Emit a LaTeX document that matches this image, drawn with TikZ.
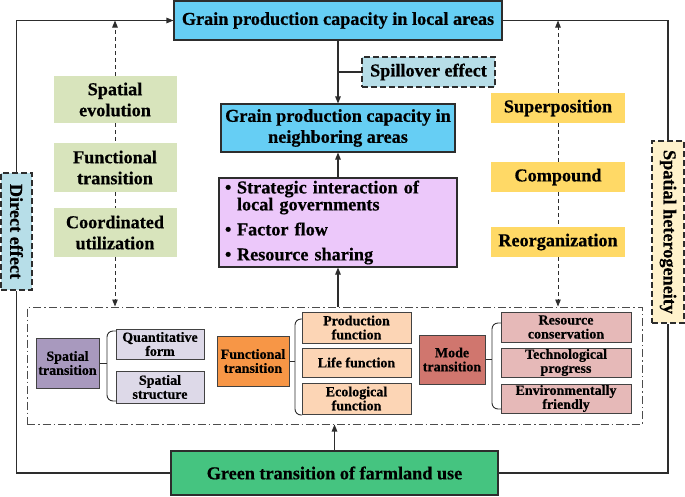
\documentclass[tikz,border=0pt]{standalone}
\usepackage{graphicx}
\usepackage{fontspec}
\setmainfont{Liberation Serif}[BoldFeatures={FakeBold=0.5}]
\usetikzlibrary{arrows.meta,calc}
\definecolor{cyanb}{RGB}{102,206,244}
\definecolor{lblue}{RGB}{183,222,232}
\definecolor{lgreen}{RGB}{216,228,188}
\definecolor{goldb}{RGB}{255,217,102}
\definecolor{creamb}{RGB}{255,242,204}
\definecolor{lilac}{RGB}{236,200,250}
\definecolor{stc}{RGB}{168,153,190}
\definecolor{qfc}{RGB}{221,217,232}
\definecolor{orangeb}{RGB}{247,150,70}
\definecolor{peach}{RGB}{252,213,181}
\definecolor{mtc}{RGB}{208,118,110}
\definecolor{rosec}{RGB}{230,185,184}
\definecolor{greenb}{RGB}{69,196,128}
\definecolor{edge}{RGB}{45,45,45}
\tikzset{
  x=1pt, y=-1pt,
  bigfont/.style={font=\bfseries\fontsize{18.2}{21}\selectfont},
  box/.style={draw=edge, line width=1.1pt, align=center, inner sep=1pt, bigfont},
  plain/.style={align=center, inner sep=1pt, bigfont},
  dbox/.style={box, dash pattern=on 6pt off 3pt},
  small/.style={draw=edge!90!white, line width=1pt, align=center, inner sep=1pt, font=\bfseries\fontsize{14}{14}\selectfont},
  conn/.style={line width=1.1pt, draw=edge},
  arr/.style={conn, -{Triangle[length=7pt,width=5.5pt]}},
  dline/.style={line width=0.9pt, draw=edge, dash pattern=on 4pt off 3pt},
  darr/.style={dline, -{Triangle[length=7pt,width=5.5pt]}},
  brace/.style={line width=0.9pt, draw=edge, rounded corners=6pt},
}
\begin{document}
\begin{tikzpicture}
\useasboundingbox (0,0) rectangle (685,496);

% main column
\node[box, fill=cyanb, minimum width=328pt, minimum height=39pt] (top) at (338,20.5) {Grain production capacity in local areas};
\node[dbox, fill=lblue, minimum width=133pt, minimum height=30pt] (spill) at (428.5,72) {Spillover effect};
\node[box, fill=cyanb, minimum width=234pt, minimum height=48pt] (nb) at (338,128) {Grain production capacity in\\neighboring areas};
\node[draw=edge, line width=1.1pt, fill=lilac, align=left, inner xsep=6pt, inner ysep=1pt, text width=226pt, minimum height=89pt, font=\bfseries\fontsize{18.2}{17}\selectfont] (mech) at (338,222.5)
  {\makebox[12pt][l]{\textbullet}Strategic interaction of\\
   \hspace*{12pt}local governments\\[8pt]
   \makebox[12pt][l]{\textbullet}Factor flow\\[8pt]
   \makebox[12pt][l]{\textbullet}Resource sharing};

% left column
\node[plain, fill=lgreen, minimum width=123pt, minimum height=47pt] (se) at (115,99.5) {Spatial\\evolution};
\node[plain, fill=lgreen, minimum width=123pt, minimum height=49pt] (ftr) at (115,167.5) {Functional\\transition};
\node[plain, fill=lgreen, minimum width=123pt, minimum height=49pt] (cu) at (115,232.5) {Coordinated\\utilization};

% right column
\node[plain, fill=goldb, minimum width=134pt, minimum height=30pt] (sp) at (558,108) {Superposition};
\node[plain, fill=goldb, minimum width=134pt, minimum height=30pt] (co) at (558,177) {Compound};
\node[plain, fill=goldb, minimum width=134pt, minimum height=30pt] (ro) at (558,242) {Reorganization};

% side labels
\node[dbox, fill=lblue, minimum width=31pt, minimum height=117pt] (de) at (16.5,231.5) {\rotatebox{-90}{Direct effect}};
\node[dbox, fill=creamb, minimum width=32pt, minimum height=182pt] (sh) at (668,232) {\rotatebox{-90}{Spatial heterogeneity}};

% frame
\node[draw=edge!85!white, line width=1pt, dash pattern=on 8pt off 3pt on 1.5pt off 3pt, minimum width=615pt, minimum height=117pt] (frame) at (334.5,365.5) {};

% bottom
\node[box, fill=greenb, minimum width=327pt, minimum height=44pt, font=\bfseries\fontsize{18.2}{21}\selectfont] (green) at (334.5,473) {Green transition of farmland use};

% inner groups
\node[small, fill=stc, minimum width=63pt, minimum height=50pt] (st) at (67.5,363) {Spatial\\transition};
\node[small, fill=qfc, minimum width=88pt, minimum height=30pt] (qf) at (160,344) {Quantitative\\form};
\node[small, fill=qfc, minimum width=88pt, minimum height=32pt] (ss) at (160,387) {Spatial\\structure};

\node[small, fill=orangeb, minimum width=72pt, minimum height=50pt] (fnt) at (253,361) {Functional\\transition};
\node[small, fill=peach, minimum width=109pt, minimum height=31pt] (pf) at (356.5,327.5) {Production\\function};
\node[small, fill=peach, minimum width=109pt, minimum height=29pt] (lf) at (356.5,362.5) {Life function};
\node[small, fill=peach, minimum width=109pt, minimum height=31pt] (ef) at (356.5,398.5) {Ecological\\function};

\node[small, fill=mtc, minimum width=66pt, minimum height=49pt] (mt) at (452,359.5) {Mode\\transition};
\node[small, fill=rosec, minimum width=130pt, minimum height=30pt] (rc) at (566,327) {Resource\\conservation};
\node[small, fill=rosec, minimum width=130pt, minimum height=29pt] (tp) at (566,362.5) {Technological\\progress};
\node[small, fill=rosec, minimum width=130pt, minimum height=29pt] (envf) at (566,398.5) {Environmentally\\friendly};

% braces
\coordinate (b1) at (107,363);
\draw[brace] (116,331) -| (b1) |- (116,401);
\draw[brace, rounded corners=0pt] (st.east) -- (b1);
\coordinate (b2) at (295,361);
\draw[brace] (302,319) -| (b2) |- (302,415);
\draw[brace, rounded corners=0pt] (fnt.east) -- (b2);
\coordinate (b3) at (492,359.5);
\draw[brace] (501,323) -| (b3) |- (501,409);
\draw[brace, rounded corners=0pt] (mt.east) -- (b3);

% connectors
\draw[arr] (top.south) -- (nb.north);
\draw[conn] (spill.west) -- (spill.west -| top.south);
\draw[arr] (mech.north) -- (nb.south);
\draw[arr] (frame.north -| mech.south) -- (mech.south);
\draw[arr] (green.north) -- (frame.south -| green.north);

\draw[arr] (de.north) |- (top.west);
\draw[conn] (green.west) -| (de.south);
\draw[conn] (top.east) -| (sh.north);
\draw[conn] (green.east) -| (sh.south);

\draw[darr] (se.north) -- (se.north |- top.west);
\draw[dline] (se.south) -- (ftr.north);
\draw[dline] (ftr.south) -- (cu.north);
\draw[darr] (cu.south) -- (cu.south |- frame.north);

\draw[darr] (sp.north) -- (sp.north |- top.east);
\draw[dline] (sp.south) -- (co.north);
\draw[dline] (co.south) -- (ro.north);
\draw[darr] (ro.south) -- (ro.south |- frame.north);
\end{tikzpicture}
\end{document}
